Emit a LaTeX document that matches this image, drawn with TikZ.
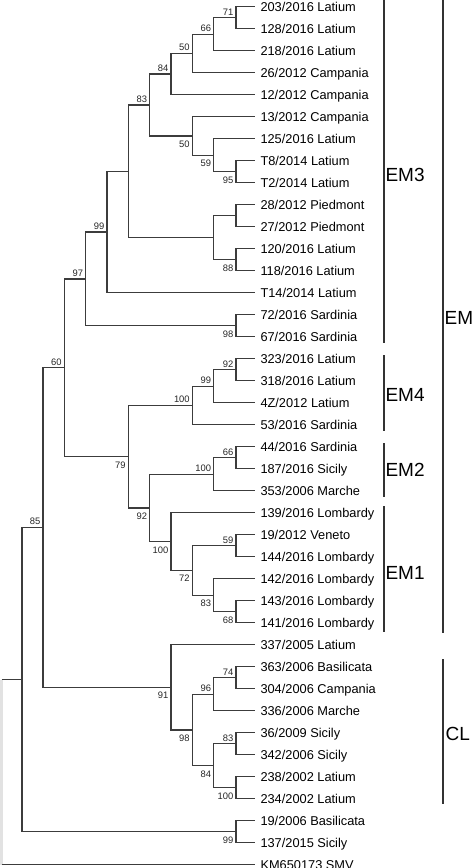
\documentclass[tikz,border=0pt]{standalone}
\usepackage{fontspec}
\setmainfont{Liberation Sans}
\definecolor{treecol}{HTML}{3C3C3C}
\definecolor{barcol}{HTML}{333333}
\definecolor{rootcol}{HTML}{E2E2E2}
\tikzset{
  br/.style={draw=treecol, line width=1.2pt},
  leaf/.style={anchor=west, inner xsep=5.3pt, inner ysep=0pt, text height=9.2pt, text depth=0pt, font=\fontsize{12.8}{14}\selectfont},
  bsa/.style={anchor=south east, inner xsep=2.4pt, inner ysep=2.4pt, text height=6.8pt, text depth=0pt, font=\fontsize{9.4}{10}\selectfont, text=black!85},
  bsb/.style={anchor=north east, inner xsep=2.4pt, inner ysep=4.4pt, text height=6.8pt, text depth=0pt, font=\fontsize{9.4}{10}\selectfont, text=black!85},
  cbar/.style={draw=barcol, line width=2pt},
  clab/.style={anchor=west, inner sep=0pt, text height=13.6pt, text depth=0pt, font=\fontsize{19}{21}\selectfont}
}
\begin{document}
\begin{tikzpicture}[x=1pt,y=-1pt]
\useasboundingbox (0,0) rectangle (474,868);
% leaves
\node[leaf] (l1)  at (255,  6.7) {203/2016 Latium};
\node[leaf] (l2)  at (255, 28.7) {128/2016 Latium};
\node[leaf] (l3)  at (255, 50.7) {218/2016 Latium};
\node[leaf] (l4)  at (255, 72.7) {26/2012 Campania};
\node[leaf] (l5)  at (255, 94.7) {12/2012 Campania};
\node[leaf] (l6)  at (255,116.7) {13/2012 Campania};
\node[leaf] (l7)  at (255,138.7) {125/2016 Latium};
\node[leaf] (l8)  at (255,160.7) {T8/2014 Latium};
\node[leaf] (l9)  at (255,182.7) {T2/2014 Latium};
\node[leaf] (l10) at (255,204.7) {28/2012 Piedmont};
\node[leaf] (l11) at (255,226.7) {27/2012 Piedmont};
\node[leaf] (l12) at (255,248.7) {120/2016 Latium};
\node[leaf] (l13) at (255,270.7) {118/2016 Latium};
\node[leaf] (l14) at (255,292.7) {T14/2014 Latium};
\node[leaf] (l15) at (255,314.7) {72/2016 Sardinia};
\node[leaf] (l16) at (255,336.7) {67/2016 Sardinia};
\node[leaf] (l17) at (255,358.7) {323/2016 Latium};
\node[leaf] (l18) at (255,380.7) {318/2016 Latium};
\node[leaf] (l19) at (255,402.7) {4Z/2012 Latium};
\node[leaf] (l20) at (255,424.7) {53/2016 Sardinia};
\node[leaf] (l21) at (255,446.7) {44/2016 Sardinia};
\node[leaf] (l22) at (255,468.7) {187/2016 Sicily};
\node[leaf] (l23) at (255,490.7) {353/2006 Marche};
\node[leaf] (l24) at (255,512.7) {139/2016 Lombardy};
\node[leaf] (l25) at (255,534.7) {19/2012 Veneto};
\node[leaf] (l26) at (255,556.7) {144/2016 Lombardy};
\node[leaf] (l27) at (255,578.7) {142/2016 Lombardy};
\node[leaf] (l28) at (255,600.7) {143/2016 Lombardy};
\node[leaf] (l29) at (255,622.7) {141/2016 Lombardy};
\node[leaf] (l30) at (255,644.7) {337/2005 Latium};
\node[leaf] (l31) at (255,666.7) {363/2006 Basilicata};
\node[leaf] (l32) at (255,688.7) {304/2006 Campania};
\node[leaf] (l33) at (255,710.7) {336/2006 Marche};
\node[leaf] (l34) at (255,732.7) {36/2009 Sicily};
\node[leaf] (l35) at (255,754.7) {342/2006 Sicily};
\node[leaf] (l36) at (255,776.7) {238/2002 Latium};
\node[leaf] (l37) at (255,798.7) {234/2002 Latium};
\node[leaf] (l38) at (255,820.7) {19/2006 Basilicata};
\node[leaf] (l39) at (255,842.7) {137/2015 Sicily};
\node[leaf] (l40) at (255,864.7) {KM650173 SMV};
% internal nodes
\coordinate (a71)   at (236, 17.7);
\coordinate (a66)   at (213.7, 34.2);
\coordinate (a50)   at (192.3, 53.45);
\coordinate (a84)   at (171, 74.08);
\coordinate (a95)   at (236, 171.7);
\coordinate (a59)   at (213.7, 155.2);
\coordinate (a50b)  at (192.3, 135.95);
\coordinate (a83)   at (149.7, 105.0);
\coordinate (a28)   at (236, 215.7);
\coordinate (a88)   at (236, 259.7);
\coordinate (aPL)   at (213.7, 237.7);
\coordinate (aU1)   at (128.3, 171.35);
\coordinate (a99)   at (107, 232.0);
\coordinate (a98)   at (236, 325.7);
\coordinate (a97)   at (85.7, 278.9);
\coordinate (a92)   at (236, 369.7);
\coordinate (a99b)  at (213.7, 386.2);
\coordinate (a100a) at (192.3, 405.45);
\coordinate (a66b)  at (236, 457.7);
\coordinate (a100b) at (213.7, 474.2);
\coordinate (a59b)  at (236, 545.7);
\coordinate (a68)   at (236, 611.7);
\coordinate (a83b)  at (213.7, 595.2);
\coordinate (a72)   at (192.3, 570.45);
\coordinate (a100c) at (171, 541.6);
\coordinate (a92b)  at (149.7, 507.9);
\coordinate (a79)   at (128.3, 456.7);
\coordinate (a60)   at (64.3, 367.8);
\coordinate (a74)   at (236, 677.7);
\coordinate (a96)   at (213.7, 694.2);
\coordinate (a83c)  at (236, 743.7);
\coordinate (a100d) at (236, 787.7);
\coordinate (a84b)  at (213.7, 765.7);
\coordinate (a98b)  at (192.3, 729.95);
\coordinate (a91)   at (171, 687.3);
\coordinate (a85)   at (43, 527.55);
\coordinate (a99c)  at (236, 831.7);
\coordinate (aU2)   at (22, 679.6);
\coordinate (root)  at (1.5, 679.6);
\coordinate (rootb) at (1.5, 864.7);
% root (light)
\draw[draw=rootcol, line width=2.6pt] (root) -- (rootb);
% branches
\foreach \p/\c in {a71/l1,a71/l2,a66/a71,a66/l3,a50/a66,a50/l4,a84/a50,a84/l5,
  a95/l8,a95/l9,a59/l7,a59/a95,a50b/l6,a50b/a59,a83/a84,a83/a50b,
  a28/l10,a28/l11,a88/l12,a88/l13,aPL/a28,aPL/a88,aU1/a83,aU1/aPL,
  a99/aU1,a99/l14,a98/l15,a98/l16,a97/a99,a97/a98,
  a92/l17,a92/l18,a99b/a92,a99b/l19,a100a/a99b,a100a/l20,
  a66b/l21,a66b/l22,a100b/a66b,a100b/l23,
  a59b/l25,a59b/l26,a68/l28,a68/l29,a83b/l27,a83b/a68,a72/a59b,a72/a83b,
  a100c/l24,a100c/a72,a92b/a100b,a92b/a100c,a79/a100a,a79/a92b,
  a60/a97,a60/a79,
  a74/l31,a74/l32,a96/a74,a96/l33,a83c/l34,a83c/l35,a100d/l36,a100d/l37,
  a84b/a83c,a84b/a100d,a98b/a96,a98b/a84b,a91/l30,a91/a98b,
  a85/a60,a85/a91,a99c/l38,a99c/l39,aU2/a85,aU2/a99c}
  {\draw[br] (\p) |- (\c);}
\draw[br] (root) -- (aU2);
\draw[br] (rootb) -- (l40.west);
% bootstrap labels
\node[bsa] (b71)   at (a71)   {71};
\node[bsa] (b66)   at (a66)   {66};
\node[bsa] (b50)   at (a50)   {50};
\node[bsa] (b84)   at (a84)   {84};
\node[bsa] (b83)   at (a83)   {83};
\node[bsb] (b50b)  at (a50b)  {50};
\node[bsb] (b59)   at (a59)   {59};
\node[bsb] (b95)   at (a95)   {95};
\node[bsb] (b88)   at (a88)   {88};
\node[bsa] (b99)   at (a99)   {99};
\node[bsa] (b97)   at (a97)   {97};
\node[bsb] (b98)   at (a98)   {98};
\node[bsa] (b60)   at (a60)   {60};
\node[bsa] (b92)   at (a92)   {92};
\node[bsa] (b99b)  at (a99b)  {99};
\node[bsa] (b100a) at (a100a) {100};
\node[bsb] (b79)   at (a79)   {79};
\node[bsa] (b66b)  at (a66b)  {66};
\node[bsa] (b100b) at (a100b) {100};
\node[bsb] (b92b)  at (a92b)  {92};
\node[bsb] (b100c) at (a100c) {100};
\node[bsa] (b59b)  at (a59b)  {59};
\node[bsb] (b72)   at (a72)   {72};
\node[bsb] (b83b)  at (a83b)  {83};
\node[bsb] (b68)   at (a68)   {68};
\node[bsa] (b85)   at (a85)   {85};
\node[bsb] (b91)   at (a91)   {91};
\node[bsa] (b74)   at (a74)   {74};
\node[bsa] (b96)   at (a96)   {96};
\node[bsb] (b98b)  at (a98b)  {98};
\node[bsa] (b83c)  at (a83c)  {83};
\node[bsb] (b84b)  at (a84b)  {84};
\node[bsb] (b100d) at (a100d) {100};
\node[bsb] (b99c)  at (a99c)  {99};
% clade bars
\draw[cbar] (384,0) -- (384,343.3);
\draw[cbar] (384,355) -- (384,430.7);
\draw[cbar] (384,443.3) -- (384,496.7);
\draw[cbar] (384,506) -- (384,632.3);
\draw[cbar] (442.7,0) -- (442.7,633);
\draw[cbar] (443.3,659.3) -- (443.3,804.3);
\node[clab] (cEM3) at (385.3,175) {EM3};
\node[clab] (cEM4) at (385.3,395) {EM4};
\node[clab] (cEM2) at (385.3,470) {EM2};
\node[clab] (cEM1) at (385.3,572.3) {EM1};
\node[clab] (cEM)  at (444.5,318) {EM};
\node[clab] (cCL)  at (445.5,733.3) {CL};
\end{tikzpicture}
\end{document}
